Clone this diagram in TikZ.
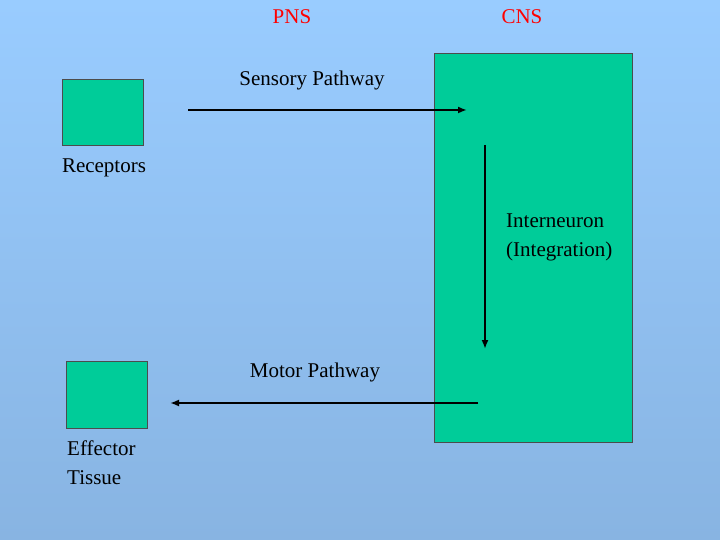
\documentclass[tikz,border=0pt]{standalone}
\usepackage{fontspec}
\setmainfont{Liberation Serif}
\begin{document}
\begin{tikzpicture}[x=1pt,y=-1pt,
  box/.style={draw=black!70,fill={rgb,255:red,0;green,204;blue,153},line width=0.8pt},
  lbl/.style={font=\fontsize{21}{29}\selectfont,inner sep=0pt},
  arr/.style={line width=2.2pt,-{Latex[length=9pt,width=7pt]}}]
\usetikzlibrary{arrows.meta}
\shade[top color={rgb,255:red,153;green,204;blue,255},bottom color={rgb,255:red,136;green,180;blue,226}] (0,0) rectangle (720,540);
\useasboundingbox (0,0) rectangle (720,540);
\node[lbl,text=red] (pns) at (292,17) {PNS};
\node[lbl,text=red] (cns) at (522,17) {CNS};
\draw[box] (434,53) rectangle (632,442);
\draw[box] (62,79) rectangle (143,145);
\draw[box] (66,361) rectangle (147,428);
\node[lbl] (sp) at (312,80) {Sensory Pathway};
\node[lbl] (rec) at (104,168) {Receptors};
\node[lbl,anchor=west,align=left] (int) at (506,237) {Interneuron\\(Integration)};
\node[lbl] (mp) at (315,372) {Motor Pathway};
\node[lbl,anchor=north west,align=left] (eff) at (67,441) {Effector\\Tissue};
\coordinate (s1) at (188,110); \coordinate (s2) at (467,110);
\coordinate (v1) at (485,145); \coordinate (v2) at (485,349);
\coordinate (m1) at (478,403); \coordinate (m2) at (170,403);
\draw[arr] (s1) -- (s2);
\draw[arr] (v1) -- (v2);
\draw[arr] (m1) -- (m2);
\end{tikzpicture}
\end{document}
